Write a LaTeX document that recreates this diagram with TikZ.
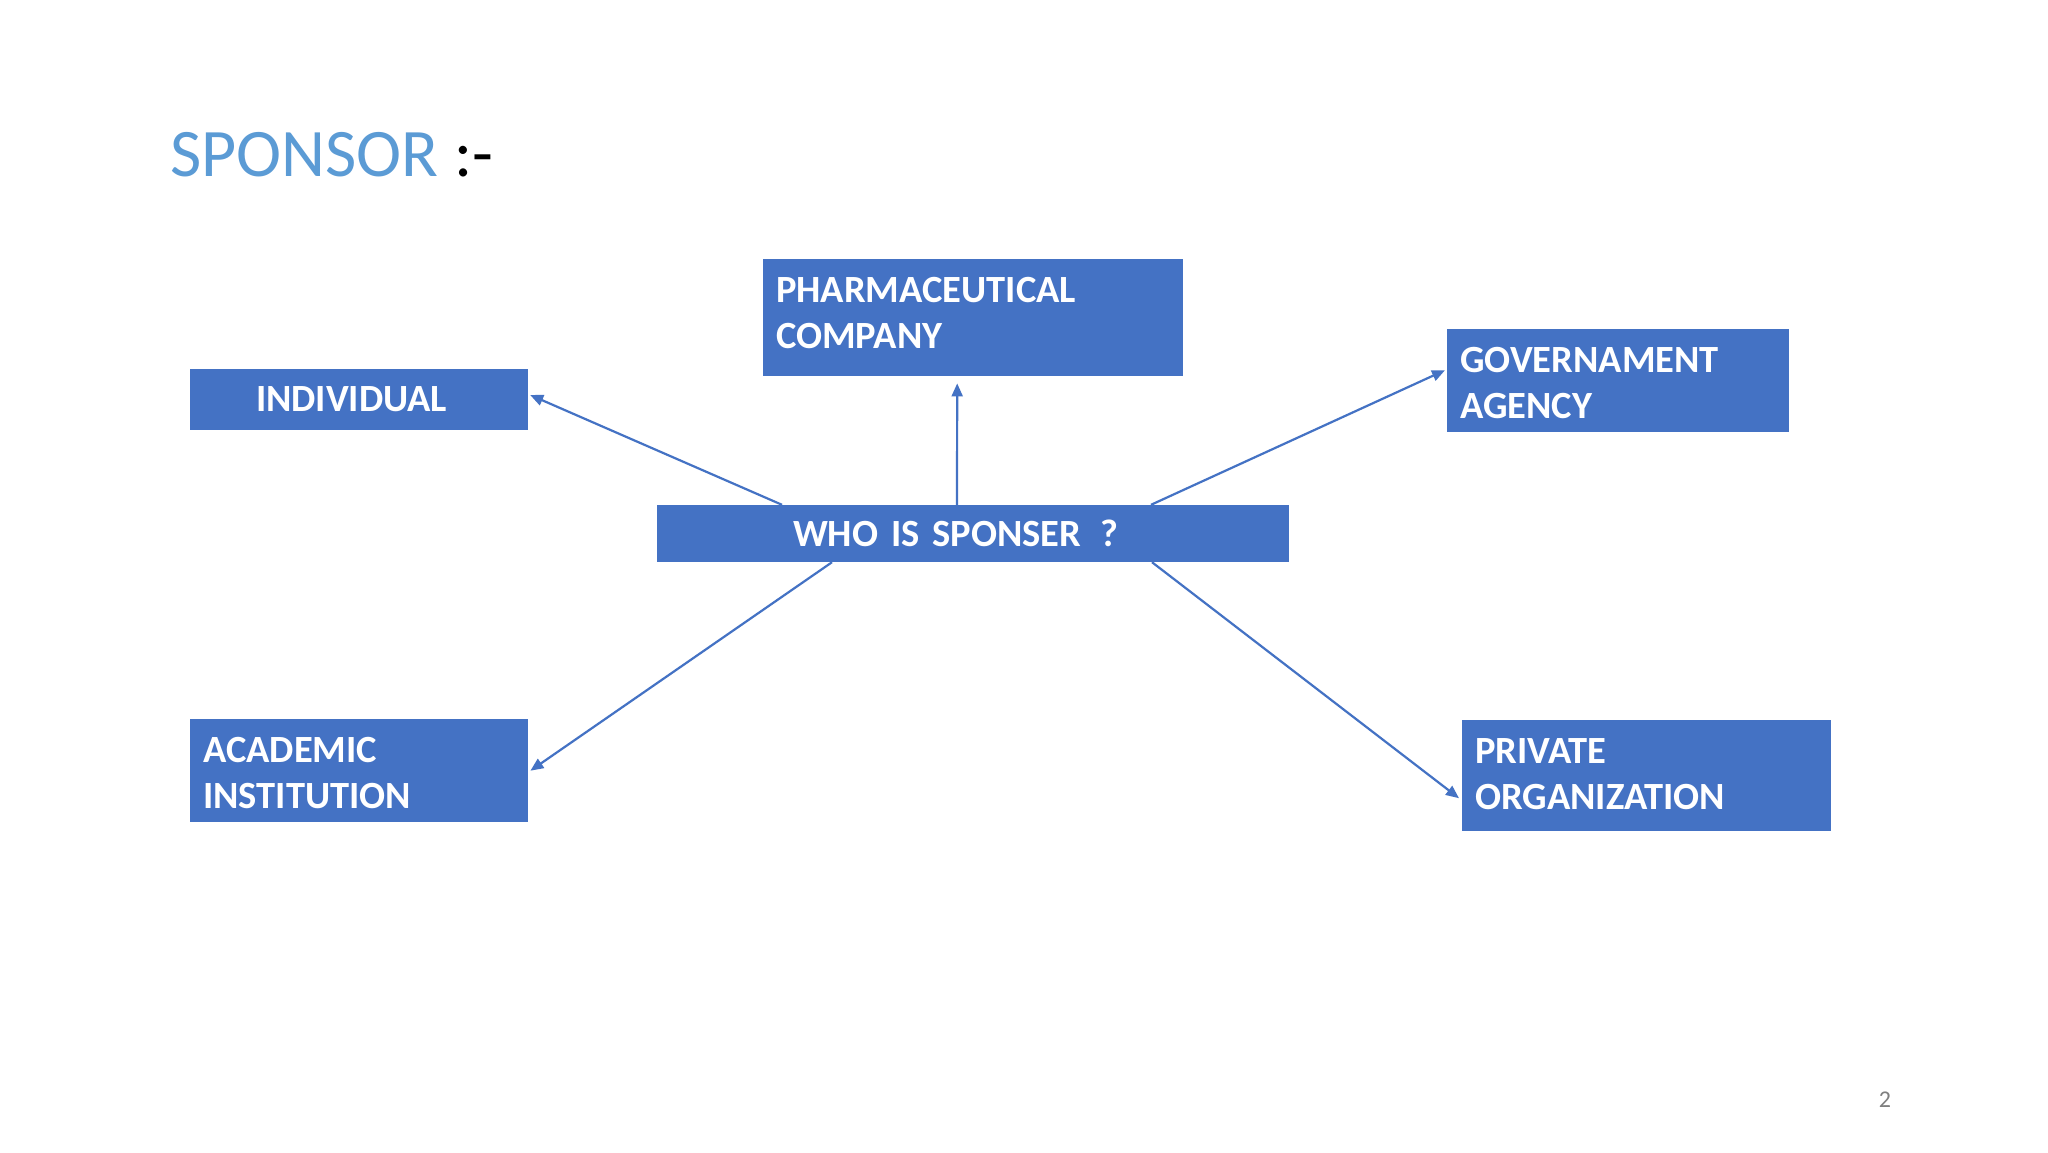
\documentclass[tikz,border=0pt]{standalone}
\usepackage{fontspec}
\setmainfont{Carlito}
\usetikzlibrary{arrows.meta}

\definecolor{boxblue}{HTML}{4472C4}
\definecolor{titleblue}{HTML}{5B9BD5}
\definecolor{pagegray}{HTML}{7F7F7F}

\tikzset{
  sponsorbox/.style={fill=boxblue, text=white, inner xsep=13pt, inner ysep=0pt,
    font=\fontsize{38.5}{46}\selectfont\bfseries},
  twoline/.style={sponsorbox, align=left, anchor=north west},
  link/.style={draw=boxblue, line width=2.2pt, -{Triangle[length=13pt,width=11pt]}}
}

\begin{document}
\begin{tikzpicture}[x=1pt,y=-1pt]

    % fond de la diapositive
    \fill[white] (0,0) rectangle (2048,1152);
    \useasboundingbox (0,0) rectangle (2048,1152);

    % titre
    \node[anchor=base west, inner sep=0pt, font=\fontsize{68}{80}\selectfont] (title) at (170,176)
        {\textcolor{titleblue}{SPONSOR} :-};

    % boite centrale
    \node[sponsorbox, align=left, text width=606pt, minimum height=57pt] (who) at (973,533.5)
        {\hspace*{123pt}WHO IS SPONSER\hspace{0.5em}?};

    % boites autour
    \node[sponsorbox, align=left, text width=312pt, minimum height=61pt] (indiv) at (359,399.5)
        {\hspace*{53pt}INDIVIDUAL};
    \node[twoline, text width=394pt] (pharma) at (763,259)
        {\rule{0pt}{43pt}PHARMACEUTICAL\\COMPANY\rule[-28pt]{0pt}{28pt}};
    \node[twoline, text width=316pt] (gov) at (1447,329)
        {\rule{0pt}{43pt}GOVERNAMENT\\AGENCY\rule[-14pt]{0pt}{14pt}};
    \node[twoline, text width=312pt] (acad) at (190,719)
        {\rule{0pt}{43pt}ACADEMIC\\INSTITUTION\rule[-14pt]{0pt}{14pt}};
    \node[twoline, text width=343pt] (priv) at (1462,720)
        {\rule{0pt}{43pt}PRIVATE\\ORGANIZATION\rule[-22pt]{0pt}{22pt}};

    % fleches depuis la boite centrale
    \draw[link] ([xshift=-191pt]who.north) -- ([xshift=2pt,yshift=4.5pt]indiv.east);
    \draw[link] ([xshift=-16pt]who.north) -- ([xshift=-16pt,yshift=-7pt]pharma.south);
    \draw[link] ([xshift=178pt]who.north) -- ([xshift=-2pt,yshift=10.5pt]gov.west);
    \draw[link] ([xshift=-141pt]who.south) -- ([xshift=2pt]acad.east);
    \draw[link] ([xshift=179pt]who.south) -- ([xshift=-3pt,yshift=-22.5pt]priv.west);

    % numero de page
    \node[anchor=base, inner sep=0pt, text=pagegray, font=\fontsize{24}{28}\selectfont] (page) at (1885,1107) {2};

\end{tikzpicture}
\end{document}
